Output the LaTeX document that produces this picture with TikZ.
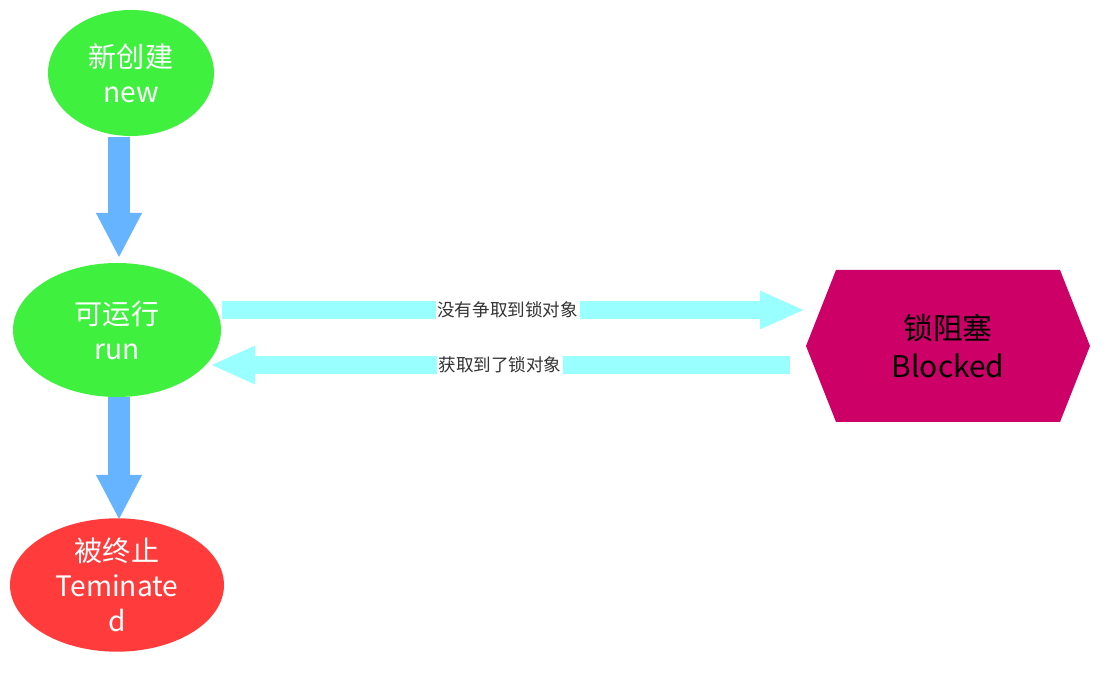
\documentclass[tikz,border=0pt]{standalone}
\usepackage{fontspec}
\setmainfont{Noto Sans CJK SC}
\usetikzlibrary{arrows.meta,shapes.geometric}
\definecolor{gr}{HTML}{3FF03F}
\definecolor{rd}{HTML}{FF3B3B}
\definecolor{bl}{HTML}{CC0066}
\definecolor{ba}{HTML}{66B3FF}
\definecolor{ca}{HTML}{99FFFF}
\tikzset{
 st/.style={ellipse,fill=#1,draw=none,text=white,align=center,font=\fontsize{16}{20}\selectfont,inner sep=0pt},
 down/.style={ba,line width=0.44cm,-{Triangle[width=0.85cm,length=0.9cm]}},
 side/.style={ca,line width=0.36cm,-{Triangle[width=0.7cm,length=0.9cm]}},
 lab/.style={fill=white,inner sep=1pt,text=black!80,font=\fontsize{10}{12}\selectfont}
}
\begin{document}
\begin{tikzpicture}
\useasboundingbox (0,0) rectangle (22.12,13.6);
\node[st=gr,minimum width=3.32cm,minimum height=2.52cm] (new) at (2.62,12.14) {新创建\\new};
\node[st=gr,minimum width=4.16cm,minimum height=2.68cm] (run) at (2.34,7.0) {可运行\\run};
\node[st=rd,minimum width=4.28cm,minimum height=2.6cm] (term) at (2.34,1.9) {被终止\\Teminate\\d};
\fill[bl] (16.12,6.68) -- (16.72,8.2) -- (21.2,8.2) -- (21.8,6.68) -- (21.2,5.16) -- (16.72,5.16) -- cycle;
\node[font=\fontsize{17}{22}\selectfont,align=center] (blk) at (18.96,6.68) {锁阻塞\\Blocked};
\coordinate (a1) at (2.38,10.86); \coordinate (a2) at (2.38,8.44);
\coordinate (b1) at (2.38,5.66); \coordinate (b2) at (2.38,3.2);
\coordinate (c1) at (4.44,7.4); \coordinate (c2) at (16.1,7.4);
\coordinate (d1) at (15.8,6.3); \coordinate (d2) at (4.2,6.3);
\draw[down] (a1) -- (a2);
\draw[down] (b1) -- (b2);
\draw[side] (c1) -- node[lab,pos=0.49] (l1) {没有争取到锁对象} (c2);
\draw[side] (d1) -- node[lab,pos=0.5] (l2) {获取到了锁对象} (d2);
\end{tikzpicture}
\end{document}
